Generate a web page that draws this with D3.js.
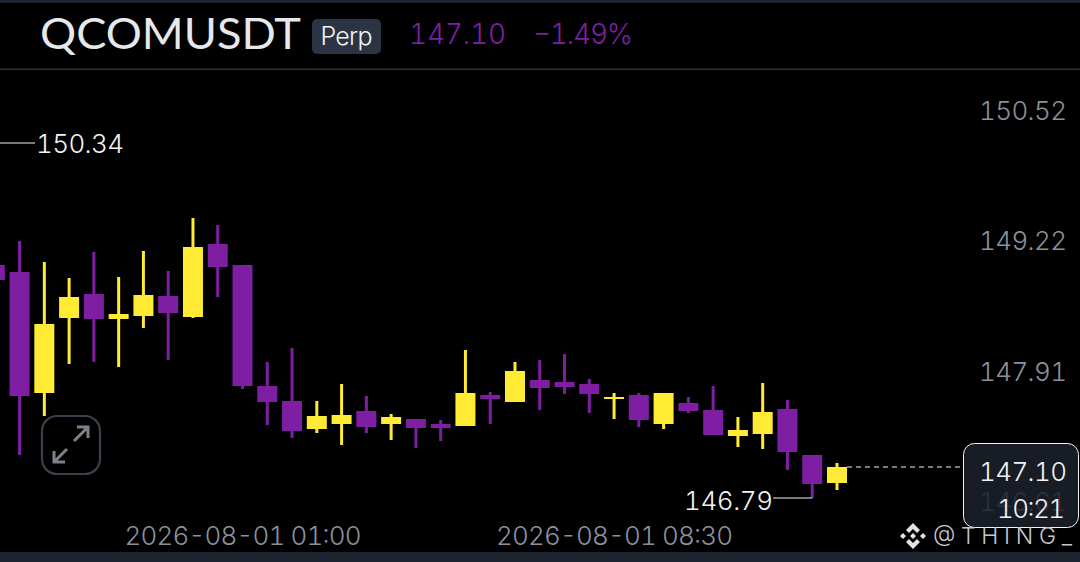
<!DOCTYPE html>
<html><head><meta charset="utf-8">
<script src="https://cdn.jsdelivr.net/npm/d3@7"></script>
<style>html,body{margin:0;padding:0;background:#000;overflow:hidden}svg{display:block}text{font-family:Inter,"Noto Sans",sans-serif;font-variant-numeric:tabular-nums;font-feature-settings:"tnum" 1}</style>
</head><body><svg id="c" width="1080" height="562"></svg>
<script>
const symbol="QCOMUSDT", badge="Perp", lastPrice="147.10", changePct="-1.49%";
const opens =[149.12,149.05,147.84,148.59,148.83,148.58,148.61,148.81,148.60,149.33,149.12,147.91,147.76,147.48,147.53,147.66,147.53,147.58,147.53,147.51,147.82,147.75,147.97,147.95,147.93,147.78,147.82,147.53,147.74,147.67,147.41,147.43,147.68,147.22,146.94];
const highs =[149.30,149.36,149.15,148.99,149.25,149.00,149.26,149.06,149.59,149.52,149.12,148.15,148.29,147.76,147.93,147.81,147.63,147.58,147.57,148.27,147.85,148.15,148.17,148.23,147.98,147.84,147.84,147.84,147.80,147.91,147.60,147.94,147.77,147.22,147.14];
const lows  =[148.80,147.22,147.61,148.13,148.15,148.10,148.49,148.17,148.59,148.80,147.88,147.52,147.39,147.44,147.32,147.44,147.37,147.29,147.36,147.51,147.53,147.75,147.67,147.83,147.64,147.58,147.50,147.48,147.64,147.42,147.30,147.28,147.07,146.79,146.87];
const closes=[148.97,147.81,148.53,148.80,148.58,148.63,148.82,148.64,149.30,149.10,147.91,147.75,147.46,147.61,147.62,147.50,147.60,147.49,147.49,147.84,147.78,148.06,147.89,147.90,147.83,147.80,147.57,147.84,147.66,147.42,147.47,147.65,147.25,146.93,147.10];
const priceTicks=[150.52,149.22,147.91,146.61];
const timeTickIndex=[10,25];
const timeTickLabels=["2026-08-01 01:00","2026-08-01 08:30"];
const periodHigh=150.34, periodLow=146.79, lowIndex=33, current=147.10, countdown="10:21", watermark="@THING_";

const UP="#ffeb33", DOWN="#7e1fa3", GREY="#8b919b", WHITE="#f2f3f5";
const svg=d3.select("#c");
const x=d3.scaleLinear().domain([0,34]).range([-5.2,837]);
const y=d3.scaleLinear().domain([periodHigh,periodLow]).range([143,498]);

svg.append("rect").attr("width",1080).attr("height",562).attr("fill","#000");
svg.append("rect").attr("width",1080).attr("height",3).attr("fill","#1e2530");
svg.append("rect").attr("y",552).attr("width",1080).attr("height",10).attr("fill","#1e2530");
svg.append("rect").attr("y",68.5).attr("width",1080).attr("height",1.5).attr("fill","#2b3139");

// header
svg.append("text").attr("x",40).attr("y",49).attr("font-size",43).attr("font-weight",400).attr("fill","#e6e8eb").attr("textLength",261).attr("lengthAdjust","spacingAndGlyphs").style("font-family","Lato").text(symbol);
svg.append("rect").attr("x",312).attr("y",19).attr("width",69).attr("height",35).attr("rx",5).attr("fill","#2b3443");
svg.append("text").attr("x",346.5).attr("y",45).attr("text-anchor","middle").attr("font-size",25).attr("font-weight",300).attr("fill",WHITE).attr("textLength",52).text(badge);
svg.append("text").attr("x",409).attr("y",44).attr("font-size",28).attr("font-weight",300).attr("fill",DOWN).attr("textLength",97).text(lastPrice);
svg.append("text").attr("x",533).attr("y",44).attr("font-size",28).attr("font-weight",300).attr("fill",DOWN).attr("textLength",100).text(changePct.replace("-","\u2212"));

// axes
const yAxis=d3.axisLeft(y).tickValues(priceTicks).tickSize(0).tickPadding(0).tickFormat(d3.format(".2f"));
const gy=svg.append("g").attr("transform","translate(1067,-14)").call(yAxis);
gy.select(".domain").remove();
gy.selectAll("text").attr("fill",GREY).attr("font-size",26).attr("font-weight",300).attr("textLength",88);
const xAxis=d3.axisBottom(x).tickValues(timeTickIndex).tickSize(0).tickPadding(0).tickFormat((d,i)=>timeTickLabels[i]);
const gx=svg.append("g").attr("transform","translate(0,527)").call(xAxis);
gx.select(".domain").remove();
gx.selectAll("text").attr("fill",GREY).attr("font-size",26).attr("font-weight",300).attr("textLength",237);

// candles
const candles=d3.range(opens.length);
const col=i=>closes[i]>=opens[i]?UP:DOWN;
svg.append("g").selectAll("rect").data(candles).join("rect")
 .attr("x",i=>x(i)-1.5).attr("width",3).attr("y",i=>y(highs[i])).attr("height",i=>y(lows[i])-y(highs[i])).attr("fill",col);
svg.append("g").selectAll("rect").data(candles).join("rect")
 .attr("x",i=>x(i)-10).attr("width",20).attr("y",i=>y(Math.max(opens[i],closes[i]))).attr("height",i=>Math.max(2,Math.abs(y(opens[i])-y(closes[i])))).attr("fill",col);

// high / low markers
svg.append("line").attr("x1",0).attr("x2",35).attr("y1",y(periodHigh)).attr("y2",y(periodHigh)).attr("stroke",WHITE).attr("stroke-width",1);
svg.append("text").attr("x",36).attr("y",y(periodHigh)+10).attr("font-size",26).attr("font-weight",300).attr("fill",WHITE).attr("textLength",88).text(periodHigh.toFixed(2));
svg.append("line").attr("x1",x(lowIndex)).attr("x2",773).attr("y1",y(periodLow)).attr("y2",y(periodLow)).attr("stroke",WHITE).attr("stroke-width",1);
svg.append("text").attr("x",684).attr("y",y(periodLow)+12).attr("font-size",26).attr("font-weight",300).attr("fill",WHITE).attr("textLength",89).text(periodLow.toFixed(2));

// current price
svg.append("line").attr("x1",847).attr("x2",963).attr("y1",y(current)).attr("y2",y(current)).attr("stroke",WHITE).attr("stroke-width",1).attr("stroke-dasharray","5 4");
svg.append("rect").attr("x",963.5).attr("y",443.5).attr("width",115).attr("height",84).attr("rx",11).attr("fill","#1c212b").attr("fill-opacity",.86).attr("stroke",WHITE).attr("stroke-width",1);
svg.append("text").attr("x",979).attr("y",481).attr("font-size",26).attr("font-weight",300).attr("fill",WHITE).attr("textLength",88).text(current.toFixed(2));
svg.append("text").attr("x",997).attr("y",518).attr("font-size",26).attr("font-weight",300).attr("fill",WHITE).attr("textLength",68).text(countdown);

// expand button
const b=svg.append("g").attr("fill","none").attr("stroke-linecap","butt");
b.append("rect").attr("x",42).attr("y",416).attr("width",58).attr("height",58).attr("rx",15).attr("stroke","#3a414c").attr("stroke-width",2.2);
const ic=b.append("g").attr("stroke","#7c828c").attr("stroke-width",3);
ic.append("path").attr("d","M74 441L88 427M77 427H88V438");
ic.append("path").attr("d","M67 449L54 462M54 451V462H65");

// watermark
const w=svg.append("g").attr("transform","translate(913,536)").attr("fill","#e2e4e8");
w.append("path").attr("d","M0-13L7-6L4-3L0-7L-4-3L-7-6ZM0 13L7 6L4 3L0 7L-4 3L-7 6ZM-13 0L-10-3L-7 0L-10 3ZM13 0L10-3L7 0L10 3ZM0-3L3 0L0 3L-3 0Z");
svg.append("text").attr("x",933).attr("y",544).attr("font-size",23).attr("font-weight",300).attr("fill","#c4c8ce").attr("textLength",139).text(watermark);
</script></body></html>
